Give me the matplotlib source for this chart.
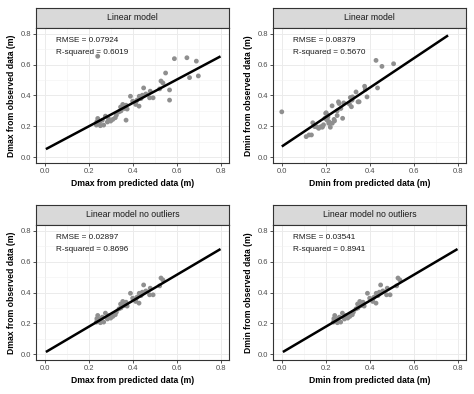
import matplotlib
matplotlib.use("Agg")
import matplotlib.pyplot as plt
import matplotlib.ticker as ticker

# ── Data ──────────────────────────────────────────────────────────
dmax_pred = [0.241, 0.590, 0.647, 0.690, 0.659, 0.699, 0.550, 0.529, 0.538, 0.568,
             0.568, 0.523, 0.450, 0.480, 0.477, 0.493, 0.444, 0.438, 0.420, 0.390,
             0.400, 0.414, 0.429, 0.370, 0.355, 0.362, 0.375, 0.347, 0.338, 0.370,
             0.326, 0.321, 0.300, 0.290, 0.276, 0.262, 0.250, 0.241, 0.235, 0.253,
             0.268, 0.237, 0.285, 0.310, 0.460, 0.430, 0.345, 0.365, 0.415]
dmax_obs = [0.655, 0.639, 0.645, 0.623, 0.516, 0.527, 0.546, 0.494, 0.481, 0.436,
            0.370, 0.443, 0.449, 0.428, 0.385, 0.385, 0.402, 0.380, 0.370, 0.395,
            0.363, 0.342, 0.331, 0.337, 0.342, 0.316, 0.312, 0.300, 0.294, 0.240,
            0.273, 0.256, 0.234, 0.250, 0.266, 0.240, 0.226, 0.251, 0.208, 0.204,
            0.208, 0.230, 0.228, 0.245, 0.410, 0.395, 0.325, 0.320, 0.360]

dmin_pred = [0.000, 0.429, 0.456, 0.509, 0.377, 0.380, 0.338, 0.436, 0.388, 0.347,
             0.312, 0.320, 0.308, 0.317, 0.282, 0.258, 0.229, 0.277, 0.252, 0.252,
             0.202, 0.196, 0.206, 0.214, 0.221, 0.184, 0.168, 0.160, 0.141, 0.135,
             0.124, 0.111, 0.238, 0.230, 0.261, 0.269, 0.200, 0.208, 0.178, 0.185,
             0.215, 0.322, 0.352, 0.150, 0.210, 0.240, 0.190]
dmin_obs = [0.294, 0.628, 0.589, 0.606, 0.460, 0.440, 0.423, 0.449, 0.391, 0.359,
            0.387, 0.370, 0.344, 0.327, 0.352, 0.359, 0.333, 0.252, 0.300, 0.270,
            0.288, 0.252, 0.240, 0.219, 0.194, 0.194, 0.187, 0.196, 0.223, 0.144,
            0.144, 0.133, 0.245, 0.220, 0.348, 0.316, 0.284, 0.273, 0.198, 0.198,
            0.230, 0.391, 0.359, 0.198, 0.260, 0.235, 0.210]

# no-outlier subsets (both bottom panels show the same cloud)
clean_pred = [0.529, 0.538, 0.523, 0.450, 0.480, 0.477, 0.493, 0.444, 0.438, 0.420,
              0.390, 0.400, 0.414, 0.429, 0.370, 0.355, 0.362, 0.375, 0.347, 0.338,
              0.326, 0.321, 0.300, 0.290, 0.276, 0.262, 0.250, 0.241, 0.235, 0.253,
              0.268, 0.237, 0.285, 0.310, 0.460, 0.430, 0.345, 0.365, 0.415]
clean_obs = [0.494, 0.481, 0.443, 0.449, 0.428, 0.385, 0.385, 0.402, 0.380, 0.370,
             0.395, 0.363, 0.342, 0.331, 0.337, 0.342, 0.316, 0.312, 0.300, 0.294,
             0.273, 0.256, 0.234, 0.250, 0.266, 0.240, 0.226, 0.251, 0.208, 0.204,
             0.208, 0.230, 0.228, 0.245, 0.410, 0.395, 0.325, 0.320, 0.360]

# fitted lines (end points)
fit_x = {"tl": [0.005, 0.800], "tr": [0.000, 0.757], "b": [0.005, 0.800]}
fit_y = {"tl": [0.052, 0.654], "tr": [0.069, 0.790], "b": [0.014, 0.682]}

titles = ["Linear model", "Linear model", "Linear model no outliers", "Linear model no outliers"]
rmse = ["0.07924", "0.08379", "0.02897", "0.03541"]
rsq = ["0.6019", "0.5670", "0.8696", "0.8941"]
xlabels = ["Dmax from predicted data (m)", "Dmin from predicted data (m)",
           "Dmax from predicted data (m)", "Dmin from predicted data (m)"]
ylabels = ["Dmax from observed data (m)", "Dmin from observed data (m)",
           "Dmax from observed data (m)", "Dmin from observed data (m)"]
ticks = [0.0, 0.2, 0.4, 0.6, 0.8]

# ── Style ─────────────────────────────────────────────────────────
plt.rcParams.update({
    "font.family": "Liberation Sans",
    "axes.linewidth": 0.8,
    "xtick.major.size": 2.2,
    "ytick.major.size": 2.2,
    "xtick.major.width": 0.6,
    "ytick.major.width": 0.6,
    "xtick.color": "#333333",
    "ytick.color": "#333333",
    "xtick.labelcolor": "#4D4D4D",
    "ytick.labelcolor": "#4D4D4D",
    "xtick.labelsize": 5.5,
    "ytick.labelsize": 5.5,
})

W, H = 474, 394
fig = plt.figure(figsize=(W / 100, H / 100), dpi=100)


def px_box(l, t, r, b):
    return [l / W, 1 - b / H, (r - l) / W, (b - t) / H]


panels = [
    (0, 0, dmax_pred, dmax_obs, "tl"),
    (237, 0, dmin_pred, dmin_obs, "tr"),
    (0, 197, clean_pred, clean_obs, "b"),
    (237, 197, clean_pred, clean_obs, "b"),
]

for i, (dx, dy, xs, ys, fk) in enumerate(panels):
    left, right = 36 + dx, 229.3 + dx
    strip_top, top, bottom = 7.7 + dy, 27.7 + dy, 163.3 + dy

    # strip
    sax = fig.add_axes(px_box(left, strip_top, right, top))
    sax.set_facecolor("#D9D9D9")
    sax.set_xticks([])
    sax.set_yticks([])
    for sp in sax.spines.values():
        sp.set_color("#333333")
    sax.text(0.5, 0.5, titles[i], ha="center", va="center",
             fontsize=6.3, color="#1A1A1A", transform=sax.transAxes)

    ax = fig.add_axes(px_box(left, top, right, bottom))
    ax.set_xlim(-0.04, 0.84)
    ax.set_ylim(-0.04, 0.84)
    ax.set_xticks(ticks)
    ax.set_yticks(ticks)
    ax.xaxis.set_minor_locator(ticker.FixedLocator([0.1, 0.3, 0.5, 0.7]))
    ax.yaxis.set_minor_locator(ticker.FixedLocator([0.1, 0.3, 0.5, 0.7]))
    ax.tick_params(which="minor", length=0)
    ax.tick_params(which="major", pad=1.5)
    ax.grid(which="major", color="#EBEBEB", lw=0.7, zorder=0)
    ax.grid(which="minor", color="#F2F2F2", lw=0.4, zorder=0)
    ax.xaxis.set_major_formatter(ticker.FormatStrFormatter("%.1f"))
    ax.yaxis.set_major_formatter(ticker.FormatStrFormatter("%.1f"))
    for sp in ax.spines.values():
        sp.set_color("#333333")

    ax.scatter(xs, ys, s=12, color="#8F8F8F", edgecolors="none", zorder=3)
    ax.plot(fit_x[fk], fit_y[fk], color="black", lw=1.8, zorder=4,
            solid_capstyle="butt")

    ax.text(0.049, 0.757, f"RMSE = {rmse[i]}", fontsize=5.9, color="#1A1A1A",
            va="center", ha="left", zorder=5)
    ax.text(0.049, 0.677, f"R-squared = {rsq[i]}", fontsize=5.9, color="#1A1A1A",
            va="center", ha="left", zorder=5)

    ax.set_xlabel(xlabels[i], fontsize=6.2, fontweight="bold", labelpad=2.5)
    ax.set_ylabel(ylabels[i], fontsize=6.2, fontweight="bold", labelpad=3)

fig.savefig("out.png", dpi=100)
